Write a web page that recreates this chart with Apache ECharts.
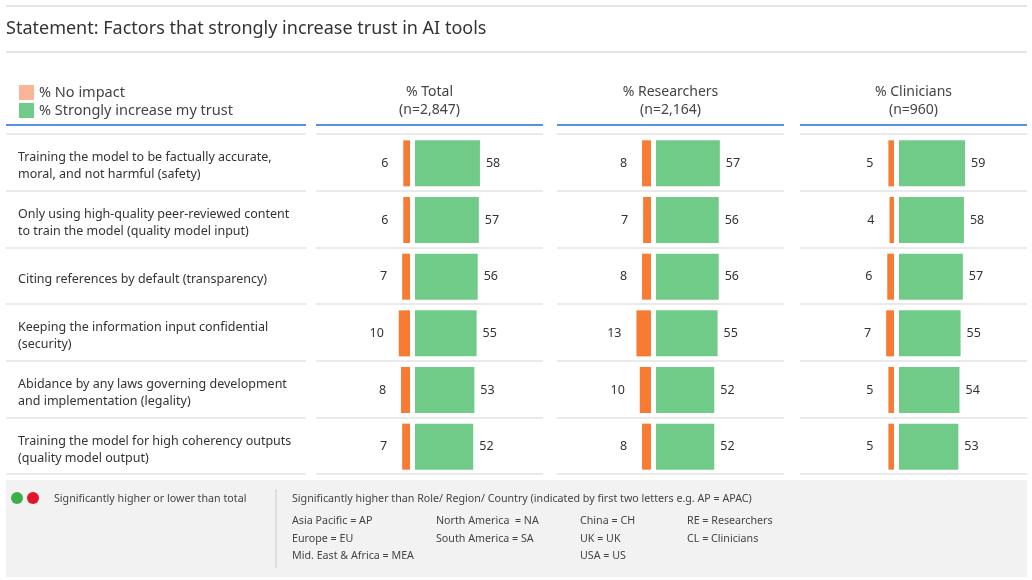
<!DOCTYPE html>
<html>
<head>
<meta charset="utf-8">
<script src="https://cdn.jsdelivr.net/npm/echarts@6/dist/echarts.min.js"></script>
<style>
html, body { margin: 0; padding: 0; background: #fff; }
#chart { width: 1032px; height: 580px; }
</style>
</head>
<body>
<div id="chart"></div>
<script>
let $ = a => document.querySelector(a)

// data
let factors = [
    'Training the model to be factually accurate,\nmoral, and not harmful (safety)',
    'Only using high-quality peer-reviewed content\nto train the model (quality model input)',
    'Citing references by default (transparency)',
    'Keeping the information input confidential\n(security)',
    'Abidance by any laws governing development\nand implementation (legality)',
    'Training the model for high coherency outputs\n(quality model output)'
]
let groups = ['% Total', '% Researchers', '% Clinicians']
let groupN = ['(n=2,847)', '(n=2,164)', '(n=960)']
let noImpact = [
    [6, 6, 7, 10, 8, 7],
    [8, 7, 8, 13, 10, 8],
    [5, 4, 6, 7, 5, 5]
]
let strongTrust = [
    [58, 57, 56, 55, 53, 52],
    [57, 56, 56, 55, 52, 52],
    [59, 58, 57, 55, 54, 53]
]

const FONT = 'Noto Sans'
const ORANGE = '#F77B32'
const GREEN = '#70CB88'
const LINE = '#e3e3e3'
const BLUE = '#5a8fe6'

let panelLeft = [316, 557, 800]
let panelWidth = 227
let rowsTop = 134, rowsH = 340

let grid = [], xAxis = [], yAxis = [], series = [], title = []

let lineStyle = { fontFamily: FONT, fontSize: 12.5, color: '#333', lineHeight: 17, padding: [8, 0, 0, 0] }

// frames (row separators): label column + 3 panels
let frames = [[6, 300]].concat(panelLeft.map(l => [l, panelWidth]))
frames.forEach((f, i) => {
    grid.push({ left: f[0], width: f[1], top: rowsTop, height: rowsH })
    xAxis.push({ gridIndex: i, type: 'value', show: false, min: 0, max: 1 })
    yAxis.push({
        gridIndex: i, type: 'category', data: factors, inverse: true,
        axisLine: { show: false }, axisTick: { show: false },
        splitLine: { show: true, lineStyle: { color: LINE, width: 1.5 } },
        axisLabel: i === 0 ? {
            inside: true, margin: 12, align: 'left',
            formatter: v => v.split('\n').map(s => '{a|' + s + '}').join('\n'),
            rich: { a: lineStyle }
        } : { show: false }
    })
})

// bars
panelLeft.forEach((l, p) => {
    let gO = grid.length
    grid.push({ left: l + 94 - 56, width: 56, top: rowsTop + 1, height: rowsH })
    xAxis.push({ gridIndex: gO, type: 'value', show: false, min: 0, max: 50, inverse: true })
    yAxis.push({ gridIndex: gO, type: 'category', data: factors, inverse: true, show: false })
    series.push({
        name: '% No impact', type: 'bar', xAxisIndex: gO, yAxisIndex: gO,
        data: noImpact[p], barWidth: 46, itemStyle: { color: ORANGE },
        label: { show: true, position: 'left', distance: 15, fontFamily: FONT, fontSize: 12.5, color: '#333' }
    })

    let gG = grid.length
    grid.push({ left: l + 99, width: 112, top: rowsTop + 1, height: rowsH })
    xAxis.push({ gridIndex: gG, type: 'value', show: false, min: 0, max: 100 })
    yAxis.push({ gridIndex: gG, type: 'category', data: factors, inverse: true, show: false })
    series.push({
        name: '% Strongly increase my trust', type: 'bar', xAxisIndex: gG, yAxisIndex: gG,
        data: strongTrust[p], barWidth: 46, itemStyle: { color: GREEN },
        label: { show: true, position: 'right', distance: 6, fontFamily: FONT, fontSize: 12.5, color: '#333' }
    })

    title.push({
        text: groups[p], subtext: groupN[p], left: l + panelWidth / 2, top: 85,
        textAlign: 'center', itemGap: 4, padding: 0,
        textStyle: { fontFamily: FONT, fontSize: 14, fontWeight: 'normal', color: '#444' },
        subtextStyle: { fontFamily: FONT, fontSize: 14, color: '#444' }
    })
})

title.push({
    text: 'Statement: Factors that strongly increase trust in AI tools', left: 6, top: 20, padding: 0,
    textStyle: { fontFamily: FONT, fontSize: 18, fontWeight: 'normal', color: '#333' }
})

let footText = { fontFamily: FONT, fontSize: 10.7, fill: '#444' }
let footItems = [
    ['Significantly higher or lower than total', 54, 498],
    ['Significantly higher than Role/ Region/ Country (indicated by first two letters e.g. AP = APAC)', 292, 498],
    ['Asia Pacific = AP', 292, 520], ['Europe = EU', 292, 538], ['Mid. East & Africa = MEA', 292, 555],
    ['North America  = NA', 436, 520], ['South America = SA', 436, 538],
    ['China = CH', 580, 520], ['UK = UK', 580, 538], ['USA = US', 580, 555],
    ['RE = Researchers', 687, 520], ['CL = Clinicians', 687, 538]
]

let graphic = [
    { type: 'line', shape: { x1: 6, y1: 6, x2: 1027, y2: 6 }, style: { stroke: '#ddd', lineWidth: 1.5 } },
    { type: 'line', shape: { x1: 6, y1: 52, x2: 1027, y2: 52 }, style: { stroke: '#ddd', lineWidth: 1.5 } },
    { type: 'rect', shape: { x: 6, y: 480, width: 1021, height: 97 }, style: { fill: '#f2f2f2' }, z: -1 },
    { type: 'line', shape: { x1: 276, y1: 489, x2: 276, y2: 568 }, style: { stroke: '#ccc', lineWidth: 1 } },
    { type: 'circle', shape: { cx: 17, cy: 498, r: 6 }, style: { fill: '#3AAF4A' } },
    { type: 'circle', shape: { cx: 33, cy: 498, r: 6 }, style: { fill: '#E3142B' } }
]
frames.forEach(f => {
    graphic.push({ type: 'line', shape: { x1: f[0], y1: 125, x2: f[0] + f[1], y2: 125 }, style: { stroke: BLUE, lineWidth: 2 } })
})
footItems.forEach(t => {
    graphic.push({ type: 'text', x: t[1], y: t[2] + 1, style: Object.assign({ text: t[0], textVerticalAlign: 'middle' }, footText) })
})

echarts.init($('#chart')).setOption({
    animation: false,
    title: title,
    legend: {
        orient: 'vertical', left: 19, top: 85, itemWidth: 15, itemHeight: 15, itemGap: 3,
        padding: 0, icon: 'rect', selectedMode: false,
        textStyle: { fontFamily: FONT, fontSize: 14.5, color: '#444' },
        data: [
            { name: '% No impact', itemStyle: { color: '#F9B697' } },
            { name: '% Strongly increase my trust', itemStyle: { color: GREEN } }
        ]
    },
    grid: grid,
    xAxis: xAxis,
    yAxis: yAxis,
    series: series,
    graphic: graphic
})
</script>
</body>
</html>
